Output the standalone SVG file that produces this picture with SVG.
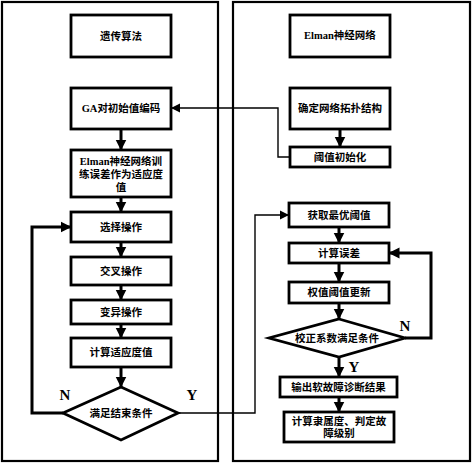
<svg xmlns="http://www.w3.org/2000/svg" width="474" height="465" viewBox="0 0 474 465">
<style>
.panel{fill:none;stroke:#000;stroke-width:2.2}
.box{fill:#fff;stroke:#000;stroke-width:2.8}
.t{font-family:"Liberation Serif","Noto Sans CJK SC",serif;font-size:10.5px;font-weight:bold;text-anchor:middle;dominant-baseline:central;fill:#000}
.lbl{font-family:"Liberation Serif","Noto Sans CJK SC",serif;font-size:15px;font-weight:bold;text-anchor:middle;dominant-baseline:central;fill:#000}
.thick{fill:none;stroke:#000;stroke-width:3;marker-end:url(#ah)}
.thin{fill:none;stroke:#000;stroke-width:1.4;marker-end:url(#ahs)}
</style>
<defs>
<marker id="ah" markerUnits="userSpaceOnUse" markerWidth="11" markerHeight="12" viewBox="0 0 11 12" refX="10.5" refY="6" orient="auto">
<path d="M0,0.5 L11,6 L0,11.5 z" fill="#000"/>
</marker>
<marker id="ahs" markerUnits="userSpaceOnUse" markerWidth="9" markerHeight="10" viewBox="0 0 9 10" refX="9" refY="5" orient="auto">
<path d="M0,0.5 L9,5 L0,9.5 z" fill="#000"/>
</marker>
</defs>
<rect x="0" y="0" width="474" height="465" fill="#fff"/>
<g id="panel-left"><rect class="panel" x="2" y="2" width="216" height="459"/></g>
<g id="panel-right"><rect class="panel" x="233" y="2" width="237" height="459"/></g>

<g id="connectors">
<path class="thick" d="M121,129 V150"/>
<path class="thick" d="M121,197 V212"/>
<path class="thick" d="M121,242 V257"/>
<path class="thick" d="M121,285 V300"/>
<path class="thick" d="M121,324 V338"/>
<path class="thick" d="M121,367 V387"/>
<path class="thick" d="M63,413 H32 V227 H71"/>
<path class="thin" d="M178,413 H255 V215 H289"/>
<path class="thick" d="M340,129 V147"/>
<path class="thin" d="M290,157 H278 V108 H171"/>
<path class="thick" d="M339,227 V243"/>
<path class="thick" d="M339,263 V282"/>
<path class="thick" d="M339,303 V319"/>
<path class="thick" d="M339,357 V377"/>
<path class="thick" d="M339,397 V412"/>
<path class="thick" d="M405,338 H431 V253 H389"/>
</g>

<g id="n-ga-title"><rect class="box" x="71" y="15" width="100" height="42"/><text class="t" x="121" y="36">遗传算法</text></g>
<g id="n-ga-encode"><rect class="box" x="71" y="88" width="100" height="41"/><text class="t" x="121" y="108">GA对初始值编码</text></g>
<g id="n-fitness-def"><rect class="box" x="71" y="150" width="100" height="47"/>
<text class="t" x="121" y="161">Elman神经网络训</text>
<text class="t" x="121" y="174">练误差作为适应度</text>
<text class="t" x="121" y="187">值</text></g>
<g id="n-select"><rect class="box" x="71" y="212" width="100" height="30"/><text class="t" x="121" y="227">选择操作</text></g>
<g id="n-cross"><rect class="box" x="71" y="257" width="100" height="28"/><text class="t" x="121" y="271">交叉操作</text></g>
<g id="n-mutate"><rect class="box" x="71" y="300" width="100" height="24"/><text class="t" x="121" y="312">变异操作</text></g>
<g id="n-calc-fit"><rect class="box" x="71" y="338" width="100" height="29"/><text class="t" x="121" y="352">计算适应度值</text></g>
<g id="n-end-cond"><polygon class="box" points="121,387 178,413 121,440 63,413"/><text class="t" x="121" y="413">满足结束条件</text></g>
<text class="lbl" x="65" y="395">N</text>
<text class="lbl" x="192" y="395">Y</text>

<g id="n-elman-title"><rect class="box" x="290" y="15" width="100" height="42"/><text class="t" x="340" y="35">Elman神经网络</text></g>
<g id="n-topology"><rect class="box" x="290" y="88" width="100" height="41"/><text class="t" x="340" y="108">确定网络拓扑结构</text></g>
<g id="n-init"><rect class="box" x="290" y="147" width="100" height="20"/><text class="t" x="340" y="157">阈值初始化</text></g>
<g id="n-best"><rect class="box" x="289" y="203" width="100" height="24"/><text class="t" x="339" y="215">获取最优阈值</text></g>
<g id="n-error"><rect class="box" x="289" y="243" width="100" height="20"/><text class="t" x="339" y="253">计算误差</text></g>
<g id="n-update"><rect class="box" x="289" y="282" width="100" height="21"/><text class="t" x="339" y="292.5">权值阈值更新</text></g>
<g id="n-check"><polygon class="box" points="339,319 405,338 339,357 269,338"/><text class="t" x="337" y="338">校正系数满足条件</text></g>
<text class="lbl" x="405" y="326">N</text>
<text class="lbl" x="354" y="367">Y</text>
<g id="n-output"><rect class="box" x="280" y="377" width="117" height="20"/><text class="t" x="338.5" y="387">输出软故障诊断结果</text></g>
<g id="n-grade"><rect class="box" x="284" y="412" width="110" height="30"/>
<text class="t" x="339" y="421">计算隶属度、判定故</text>
<text class="t" x="339" y="433">障级别</text></g>
</svg>
